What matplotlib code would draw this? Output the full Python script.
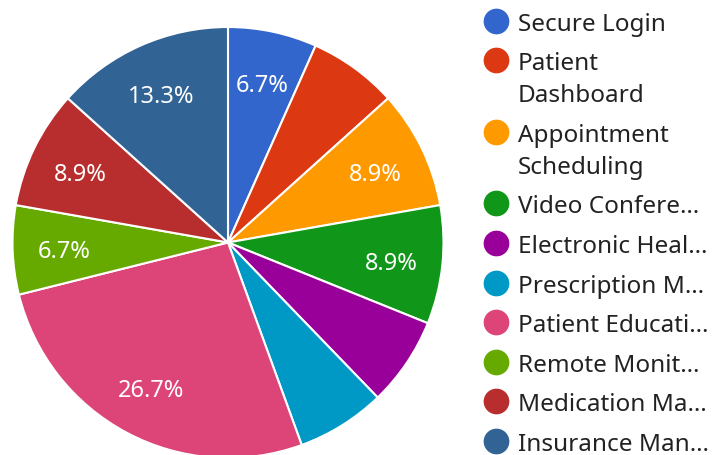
import numpy as np
import matplotlib
matplotlib.use("Agg")
import matplotlib.pyplot as plt

plt.rcParams['font.family'] = ['Noto Sans', 'DejaVu Sans']

categories = ["Secure Login", "Patient Dashboard", "Appointment Scheduling",
              "Video Conferencing", "Electronic Health Records", "Prescription Management",
              "Patient Education", "Remote Monitoring", "Medication Management",
              "Insurance Management"]
legend_labels = ["Secure Login", "Patient\nDashboard", "Appointment\nScheduling",
                 "Video Confere…", "Electronic Heal…", "Prescription M…",
                 "Patient Educati…", "Remote Monit…", "Medication Ma…", "Insurance Man…"]
values = [3, 3, 4, 4, 3, 3, 12, 3, 4, 6]
colors = ["#3366cc", "#dc3912", "#ff9900", "#109618", "#990099", "#0099c6",
          "#dd4477", "#66aa00", "#b82e2e", "#316395"]
hidden_labels = [1, 4, 5]

W, H = 712, 456
fig = plt.figure(figsize=(W / 100, H / 100), dpi=100)

cx, cy, R = 228, 243.5, 215.5
ax = fig.add_axes([(cx - R) / W, (H - cy - R) / H, 2 * R / W, 2 * R / H])
wedges, _ = ax.pie(values, colors=colors, startangle=90, counterclock=False,
                   radius=1, wedgeprops=dict(edgecolor="white", linewidth=1.5))
ax.set_xlim(-1, 1)
ax.set_ylim(-1, 1)
ax.set_aspect("equal")
ax.axis("off")

total = sum(values)
for i, w in enumerate(wedges):
    if i in hidden_labels:
        continue
    ang = np.deg2rad((w.theta1 + w.theta2) / 2)
    r = 0.76
    ax.text(r * np.cos(ang), r * np.sin(ang), f"{values[i] / total * 100:.1f}%",
            ha="center", va="center_baseline", color="white", fontsize=17)

# legend in pixel coordinates
lax = fig.add_axes([0, 0, 1, 1])
lax.set_xlim(0, W)
lax.set_ylim(H, 0)
lax.axis("off")
y = 21.6
for lab, col in zip(legend_labels, colors):
    lines = lab.split("\n")
    lax.plot(496, y, "o", ms=17.5, color=col, mec=col)
    for j, ln in enumerate(lines):
        lax.text(518, y + 32 * j, ln, ha="left", va="center_baseline", fontsize=17.5,
                 color="#222222")
    y += 32 * (len(lines) - 1) + 39.6

fig.savefig("out.png", dpi=100)
